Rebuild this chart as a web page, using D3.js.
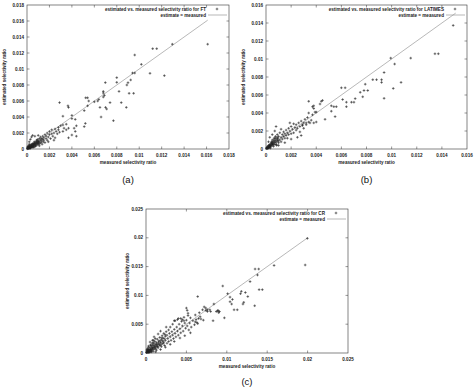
<!DOCTYPE html>
<html><head><meta charset="utf-8">
<script src="https://cdn.jsdelivr.net/npm/d3@7"></script>
<style>body{margin:0;background:#fff}svg{display:block}text{font-family:"Liberation Sans",Arial,sans-serif}</style>
</head><body>
<script>
// ---------- data ----------
const ticksA = [0,0.002,0.004,0.006,0.008,0.01,0.012,0.014,0.016,0.018];
const ticksB = [0,0.002,0.004,0.006,0.008,0.01,0.012,0.014,0.016];
const ticksC = [0,0.005,0.01,0.015,0.02,0.025];
const labelsA = ["0","0.002","0.004","0.006","0.008","0.01","0.012","0.014","0.016","0.018"];
const labelsB = ["0","0.002","0.004","0.006","0.008","0.01","0.012","0.014","0.016"];
const labelsC = ["0","0.005","0.01","0.015","0.02","0.025"];
const legendA = "estimated vs. measured selectivity ratio for FT";
const legendB = "estimated vs. measured selectivity ratio for LATIMES";
const legendC = "estimated vs. measured selectivity ratio for CR";
const lineMaxA = 0.0161, lineMaxB = 0.0151, lineMaxC = 0.02;

const pointsA = [
[0.0161,0.0131],[0.01295,0.0131],[0.0112,0.01254],[0.01156,0.01254],[0.0096,0.01175],[0.01019,0.01058],
[0.01096,0.00946],[0.01224,0.00917],[0.0094,0.0095],[0.0096,0.0095],[0.00924,0.00863],[0.009,0.00829],
[0.0089,0.008],[0.008,0.00892],[0.008,0.00833],[0.00698,0.0083],[0.0082,0.0072],[0.0091,0.00696],
[0.0095,0.00696],[0.00885,0.0052],[0.0084,0.0058],[0.0077,0.00354],[0.0068,0.0072],[0.0068,0.007],
[0.0069,0.0067],[0.0068,0.0065],[0.007,0.0052],[0.0071,0.005],[0.0065,0.0052],[0.0066,0.004],
[0.0074,0.0058],[0.0063,0.006],[0.0064,0.0062],[0.006,0.0059],[0.00523,0.0064],[0.0054,0.0064],
[0.0055,0.006],[0.0051,0.0048],[0.0054,0.0054],[0.0029,0.0058],[0.00365,0.0054],[0.0037,0.0052],
[0.004,0.0038],[0.0043,0.0037],[0.0032,0.0041],[0.0052,0.0032],[0.0051,0.0028],[0.0044,0.0029],
[0.0042,0.0026],[0.0043,0.0022],[0.0037,0.0026],[0.0035,0.0024],[0.0032,0.0022],[0.0028,0.0024],
[0.004,0.00175],[0.0044,0.0016],[0.0037,0.0014],[0.004,0.0042],
[0.00005,0.00008],[0.0001,0.00005],[0.00012,0.00015],[0.00015,0.0001],[0.0002,0.00018],[0.0002,0.0003],
[0.00025,0.00012],[0.0003,0.0002],[0.0003,0.00035],[0.00035,0.0005],[0.0004,0.00025],[0.0004,0.0004],
[0.00045,0.0006],[0.0005,0.0003],[0.0005,0.00045],[0.00055,0.0007],[0.0006,0.0004],[0.0006,0.00055],
[0.00065,0.0009],[0.0007,0.0005],[0.0007,0.0007],[0.00075,0.00035],[0.0008,0.0006],[0.0008,0.0009],
[0.00085,0.0011],[0.0009,0.0005],[0.0009,0.00075],[0.00095,0.0012],[0.001,0.0008],[0.001,0.001],
[0.00105,0.0006],[0.0011,0.0013],[0.0011,0.0009],[0.00115,0.0007],[0.0012,0.0011],[0.0012,0.0015],
[0.00125,0.0008],[0.0013,0.001],[0.0013,0.0013],[0.00135,0.0006],[0.0014,0.0012],[0.0014,0.0016],
[0.00145,0.0009],[0.0015,0.0014],[0.0015,0.0011],[0.0016,0.0018],[0.0016,0.0008],[0.0017,0.0013],
[0.0017,0.0016],[0.0018,0.002],[0.0018,0.0011],[0.0019,0.0015],[0.002,0.0018],[0.002,0.0022],
[0.0021,0.0013],[0.0022,0.0019],[0.0022,0.0024],[0.0023,0.0016],[0.0024,0.002],[0.0025,0.0025],
[0.0025,0.0014],[0.0026,0.0022],[0.0027,0.0019],[0.0028,0.0027],[0.0029,0.0021],[0.003,0.0029],
[0.0003,0.0012],[0.0005,0.0017],[0.0004,0.0015],[0.0007,0.0016],[0.0002,0.0009],[0.001,0.0017],
[0.0002,0.0006],[0.00015,0.0004],[0.0001,0.00025],[0.00008,0.0003],[0.0003,0.0001],[0.0006,0.0002],
[0.0011,0.0004],[0.0019,0.0009],[0.0024,0.0011],[0.0033,0.0026],[0.0032,0.003],[0.0035,0.0031],
[0.00002,0.00002],[0.00006,0.00018],[0.00018,0.00006],[0.00022,0.00045],[0.00028,0.00028],[0.00032,0.00015],
[0.00038,0.00055],[0.00042,0.00032],[0.00048,0.0002],[0.00052,0.00065],[0.00058,0.0005],[0.00062,0.0003],
[0.00068,0.00075],[0.00072,0.0006],[0.00078,0.0004],[0.00082,0.00085],[0.00088,0.0007],[0.00092,0.001],
[0.00098,0.00065],[0.00102,0.0009],[0.0001,0.00012],[0.00014,0.0002],[0.00025,0.0002],[0.00035,0.0003]
];

const pointsB = [
[0.0149,0.01373],[0.01345,0.01058],[0.01372,0.01058],[0.01152,0.0101],[0.00993,0.0101],[0.01024,0.00944],
[0.01075,0.0074],[0.01013,0.00673],[0.0094,0.00563],[0.0094,0.0085],[0.0092,0.0077],[0.0092,0.0074],
[0.0088,0.0077],[0.0085,0.0077],[0.0079,0.0072],[0.0081,0.0065],[0.0078,0.0065],[0.0075,0.0063],
[0.0077,0.0058],[0.0071,0.0056],[0.0068,0.0052],[0.007,0.0052],[0.0064,0.0052],[0.0064,0.0047],
[0.006,0.0068],[0.0063,0.0068],[0.0061,0.0055],[0.0056,0.0047],[0.0054,0.0047],[0.0055,0.0036],
[0.0052,0.0042],[0.0052,0.0048],[0.0047,0.0033],[0.0044,0.0053],[0.0045,0.0054],[0.0043,0.005],
[0.004,0.003],[0.0038,0.0029],[0.0035,0.0029],[0.0034,0.0053],[0.0037,0.0047],[0.0038,0.0045],
[0.0039,0.0041],[0.0037,0.0038],[0.004,0.0041],[0.0034,0.004],[0.0038,0.0048],[0.0032,0.0029],[0.0029,0.0027],
[0.00005,0.0001],[0.0001,0.00005],[0.0001,0.0002],[0.00015,0.0003],[0.0002,0.0001],[0.0002,0.0004],
[0.00025,0.0002],[0.0003,0.0005],[0.0003,0.0003],[0.00035,0.0001],[0.0004,0.0006],[0.0004,0.0003],
[0.00045,0.0008],[0.0005,0.0004],[0.0005,0.001],[0.00055,0.0006],[0.0006,0.0003],[0.0006,0.0008],
[0.00065,0.0012],[0.0007,0.0005],[0.0007,0.0009],[0.00075,0.0014],[0.0008,0.0007],[0.0008,0.0011],
[0.00085,0.0004],[0.0009,0.0009],[0.0009,0.0016],[0.00095,0.0012],[0.001,0.0007],[0.001,0.0014],
[0.0011,0.001],[0.0011,0.0018],[0.0012,0.0013],[0.0012,0.0008],[0.0013,0.0016],[0.0013,0.0011],
[0.0014,0.0019],[0.0014,0.0014],[0.0015,0.0012],[0.0015,0.0017],[0.0016,0.0021],[0.0016,0.0015],
[0.0017,0.0012],[0.0017,0.0018],[0.0018,0.0023],[0.0018,0.0016],[0.0019,0.002],[0.002,0.0017],
[0.002,0.0025],[0.0021,0.0022],[0.0022,0.0028],[0.0022,0.0018],[0.0023,0.0024],[0.0024,0.0021],
[0.0024,0.0027],[0.0025,0.0023],[0.0026,0.0029],[0.0027,0.0025],[0.0027,0.0019],[0.0028,0.0031],
[0.0029,0.0026],[0.003,0.0023],[0.003,0.0029],[0.0031,0.0033],[0.0032,0.0027],[0.0033,0.0035],
[0.0034,0.003],[0.0036,0.0032],[0.0028,0.0015],[0.0025,0.0013],[0.002,0.0011],[0.0015,0.0007],
[0.001,0.0004],[0.0003,0.0013],[0.0005,0.0016],[0.0007,0.002],[0.0002,0.0008],[0.0012,0.0022],
[0.0008,0.0025],[0.0019,0.0029],
[0.00002,0.00003],[0.00007,0.00015],[0.00012,0.00008],[0.00018,0.00025],[0.00022,0.00015],[0.00028,0.0004],
[0.00032,0.0002],[0.00038,0.00045],[0.00042,0.0007],[0.00048,0.0005],[0.00052,0.00075],[0.00058,0.0005],
[0.00062,0.001],[0.00068,0.0007],[0.00072,0.0012],[0.00078,0.0009],[0.00082,0.0005],[0.00088,0.0013],
[0.00092,0.0011],[0.00098,0.0009],[0.00015,0.00015],[0.00025,0.0003],[0.00035,0.00035],[0.0005,0.0006]
];

const pointsC = [
[0.01997,0.0199],[0.0197,0.01528],[0.01585,0.0152],[0.0135,0.01458],[0.01395,0.01458],[0.0138,0.01354],
[0.01288,0.0124],[0.0095,0.01163],[0.014,0.011],[0.0144,0.011],[0.0123,0.0105],[0.0117,0.0103],
[0.0118,0.0107],[0.0126,0.0098],[0.01345,0.0082],[0.012,0.0085],[0.0121,0.0088],[0.0113,0.0075],
[0.0109,0.0075],[0.0107,0.0093],[0.0104,0.0089],[0.0106,0.0085],[0.0104,0.0097],[0.0101,0.0103],
[0.0084,0.0085],[0.0079,0.0075],[0.0089,0.0073],[0.0091,0.0072],[0.0087,0.0072],[0.009,0.007],
[0.0089,0.0074],[0.0097,0.0061],[0.0083,0.0056],[0.0076,0.0072],[0.008,0.0072],[0.0074,0.0074],
[0.0064,0.0098],[0.005,0.0078],[0.0051,0.0074],[0.0052,0.0069],[0.0072,0.008],[0.0074,0.0078],
[0.0076,0.0075],[0.007,0.0075],[0.0066,0.007],[0.0067,0.0063],[0.0062,0.0058],[0.0061,0.0054],
[0.0064,0.0051],[0.0068,0.0059],[0.0071,0.0057],[0.0039,0.0058],[0.0043,0.006],[0.0045,0.0058],
[0.0047,0.0056],[0.0035,0.0056],
[0.0001,0.0002],[0.0002,0.0001],[0.0002,0.0004],[0.0003,0.0003],[0.0004,0.0001],[0.0004,0.0006],
[0.0005,0.0004],[0.0005,0.0009],[0.0006,0.0002],[0.0006,0.0007],[0.0007,0.0011],[0.0007,0.0005],
[0.0008,0.0008],[0.0008,0.0014],[0.0009,0.0003],[0.0009,0.001],[0.001,0.0016],[0.001,0.0007],
[0.0011,0.0012],[0.0011,0.002],[0.0012,0.0009],[0.0012,0.0015],[0.0013,0.0005],[0.0013,0.0018],
[0.0014,0.0012],[0.0014,0.0024],[0.0015,0.0016],[0.0015,0.0009],[0.0016,0.0021],[0.0017,0.0013],
[0.0017,0.0027],[0.0018,0.0018],[0.0019,0.0011],[0.0019,0.0023],[0.002,0.003],[0.002,0.0016],
[0.0021,0.0026],[0.0022,0.0019],[0.0022,0.0034],[0.0023,0.0013],[0.0024,0.0029],[0.0024,0.0022],
[0.0025,0.0037],[0.0026,0.0017],[0.0026,0.0031],[0.0027,0.0025],[0.0028,0.004],[0.0028,0.002],
[0.0029,0.0034],[0.003,0.0028],[0.003,0.0045],[0.0031,0.0022],[0.0032,0.0037],[0.0033,0.0031],
[0.0033,0.005],[0.0034,0.0025],[0.0035,0.0041],[0.0036,0.0034],[0.0036,0.0056],[0.0037,0.0028],
[0.0038,0.0045],[0.0039,0.0038],[0.004,0.006],[0.004,0.0031],[0.0041,0.005],[0.0042,0.0042],
[0.0043,0.0035],[0.0044,0.0055],[0.0045,0.0047],[0.0046,0.0038],[0.0047,0.0062],[0.0048,0.0052],
[0.0049,0.0043],[0.005,0.0057],[0.0051,0.0047],[0.0052,0.0065],[0.0053,0.004],[0.0054,0.0052],
[0.0055,0.0061],[0.0056,0.0045],[0.0058,0.0056],[0.006,0.0049],[0.0061,0.0066],[0.0063,0.0053],
[0.0065,0.006],[0.0003,0.0012],[0.0005,0.0019],[0.0008,0.0022],[0.0002,0.0008],[0.001,0.0028],
[0.0015,0.0033],[0.0018,0.0038],[0.0025,0.0045],[0.0012,0.0002],[0.0018,0.0006],[0.0024,0.001],
[0.003,0.0015],[0.0035,0.002],[0.0042,0.0026],[0.0048,0.003],[0.0055,0.0035],[0.0001,0.0005],
[0.0003,0.0006],[0.0006,0.0013],[0.0009,0.0018],[0.0004,0.0003],[0.0007,0.0002],[0.0001,0.0001],[0.0003,0.0001],
[0.00005,0.00005],[0.00015,0.0003],[0.00025,0.00015],[0.00035,0.0005],[0.00045,0.0002],[0.00055,0.0006],
[0.00065,0.0004],[0.00075,0.0009],[0.00085,0.0006],[0.00095,0.0013],[0.00105,0.001],[0.00115,0.0007],
[0.00125,0.0012],[0.00135,0.0015],[0.00145,0.0011],[0.00155,0.0019],[0.00165,0.0015],[0.00175,0.0021],
[0.00185,0.0014],[0.00195,0.0026],[0.00205,0.0021],[0.00215,0.0017],[0.00225,0.0025],[0.00235,0.0032],
[0.00015,0.0006],[0.00035,0.001],[0.00055,0.0014],[0.00075,0.0017],[0.00095,0.0022],[0.00115,0.0025]
];

// ---------- drawing ----------
const W = 474, H = 391;
const svg = d3.select("body").append("svg").attr("width", W).attr("height", H);
const FS = 4.6;

function panel(o) {
  const g = svg.append("g");
  const x = d3.scaleLinear().domain([0, o.max]).range([o.x0, o.x1]);
  const y = d3.scaleLinear().domain([0, o.max]).range([o.y1, o.y0]);
  const tl = 2.5;
  o.ticks.forEach((t, i) => {
    if (i > 0 && i < o.ticks.length - 1) {
      g.append("line").attr("x1", x(t)).attr("x2", x(t)).attr("y1", o.y1).attr("y2", o.y1 - tl).attr("stroke", "#333").attr("stroke-width", 0.5);
      g.append("line").attr("x1", x(t)).attr("x2", x(t)).attr("y1", o.y0).attr("y2", o.y0 + tl).attr("stroke", "#333").attr("stroke-width", 0.5);
      g.append("line").attr("y1", y(t)).attr("y2", y(t)).attr("x1", o.x0).attr("x2", o.x0 + tl).attr("stroke", "#333").attr("stroke-width", 0.5);
      g.append("line").attr("y1", y(t)).attr("y2", y(t)).attr("x1", o.x1).attr("x2", o.x1 - tl).attr("stroke", "#333").attr("stroke-width", 0.5);
    }
    g.append("text").attr("x", x(t)).attr("y", o.y1 + 7.5).attr("text-anchor", "middle")
      .attr("font-size", FS).attr("font-weight", "bold").attr("fill", "#222").text(o.labels[i]);
    g.append("text").attr("x", o.x0 - 3).attr("y", y(t) + 1.6).attr("text-anchor", "end")
      .attr("font-size", FS).attr("font-weight", "bold").attr("fill", "#222").text(o.labels[i]);
  });
  g.append("rect").attr("x", o.x0).attr("y", o.y0).attr("width", o.x1 - o.x0).attr("height", o.y1 - o.y0)
    .attr("fill", "none").attr("stroke", "#333").attr("stroke-width", 0.6);
  g.append("text").attr("x", (o.x0 + o.x1) / 2).attr("y", o.y1 + 15).attr("text-anchor", "middle")
    .attr("font-size", FS).attr("font-weight", "bold").attr("fill", "#222").text("measured selectivity ratio");
  g.append("text").attr("transform", `translate(${o.x0 - o.yt},${(o.y0 + o.y1) / 2}) rotate(-90)`).attr("text-anchor", "middle")
    .attr("font-size", FS).attr("font-weight", "bold").attr("fill", "#222").text("estimated selectivity ratio");
  g.append("line").attr("x1", x(0)).attr("y1", y(0)).attr("x2", x(o.lineMax)).attr("y2", y(o.lineMax))
    .attr("stroke", "#999").attr("stroke-width", 0.7);
  const s = 1.3;
  const pts = g.append("g").attr("stroke", "#222").attr("stroke-width", 0.6);
  o.points.forEach(p => {
    const px = x(p[0]), py = y(p[1]);
    pts.append("path").attr("d", `M${px - s},${py}H${px + s}M${px},${py - s}V${py + s}`);
  });
  const lx = o.x1 - 23;
  g.append("text").attr("x", lx).attr("y", o.y0 + 5.5).attr("text-anchor", "end")
    .attr("font-size", FS).attr("font-weight", "bold").attr("fill", "#222").text(o.legend);
  g.append("path").attr("d", `M${lx + 11 - s},${o.y0 + 4}H${lx + 11 + s}M${lx + 11},${o.y0 + 4 - s}V${o.y0 + 4 + s}`)
    .attr("stroke", "#222").attr("stroke-width", 0.6);
  g.append("text").attr("x", lx).attr("y", o.y0 + 11.5).attr("text-anchor", "end")
    .attr("font-size", FS).attr("font-weight", "bold").attr("fill", "#222").text("estimate = measured");
  g.append("line").attr("x1", lx + 2).attr("x2", o.x1 - 2).attr("y1", o.y0 + 10).attr("y2", o.y0 + 10)
    .attr("stroke", "#999").attr("stroke-width", 0.7);
  g.append("text").attr("x", (o.x0 + o.x1) / 2).attr("y", o.capY).attr("text-anchor", "middle")
    .attr("font-size", 9.5).attr("fill", "#111").text(o.cap);
}

panel({x0: 27, x1: 229, y0: 5, y1: 149, max: 0.018, ticks: ticksA, labels: labelsA, points: pointsA,
  lineMax: lineMaxA, legend: legendA, cap: "(a)", capY: 183, yt: 21});
panel({x0: 266, x1: 467, y0: 5, y1: 149, max: 0.016, ticks: ticksB, labels: labelsB, points: pointsB,
  lineMax: lineMaxB, legend: legendB, cap: "(b)", capY: 183, yt: 21});
panel({x0: 146, x1: 348, y0: 209, y1: 353, max: 0.025, ticks: ticksC, labels: labelsC, points: pointsC,
  lineMax: lineMaxC, legend: legendC, cap: "(c)", capY: 385, yt: 17});
</script>
</body></html>
